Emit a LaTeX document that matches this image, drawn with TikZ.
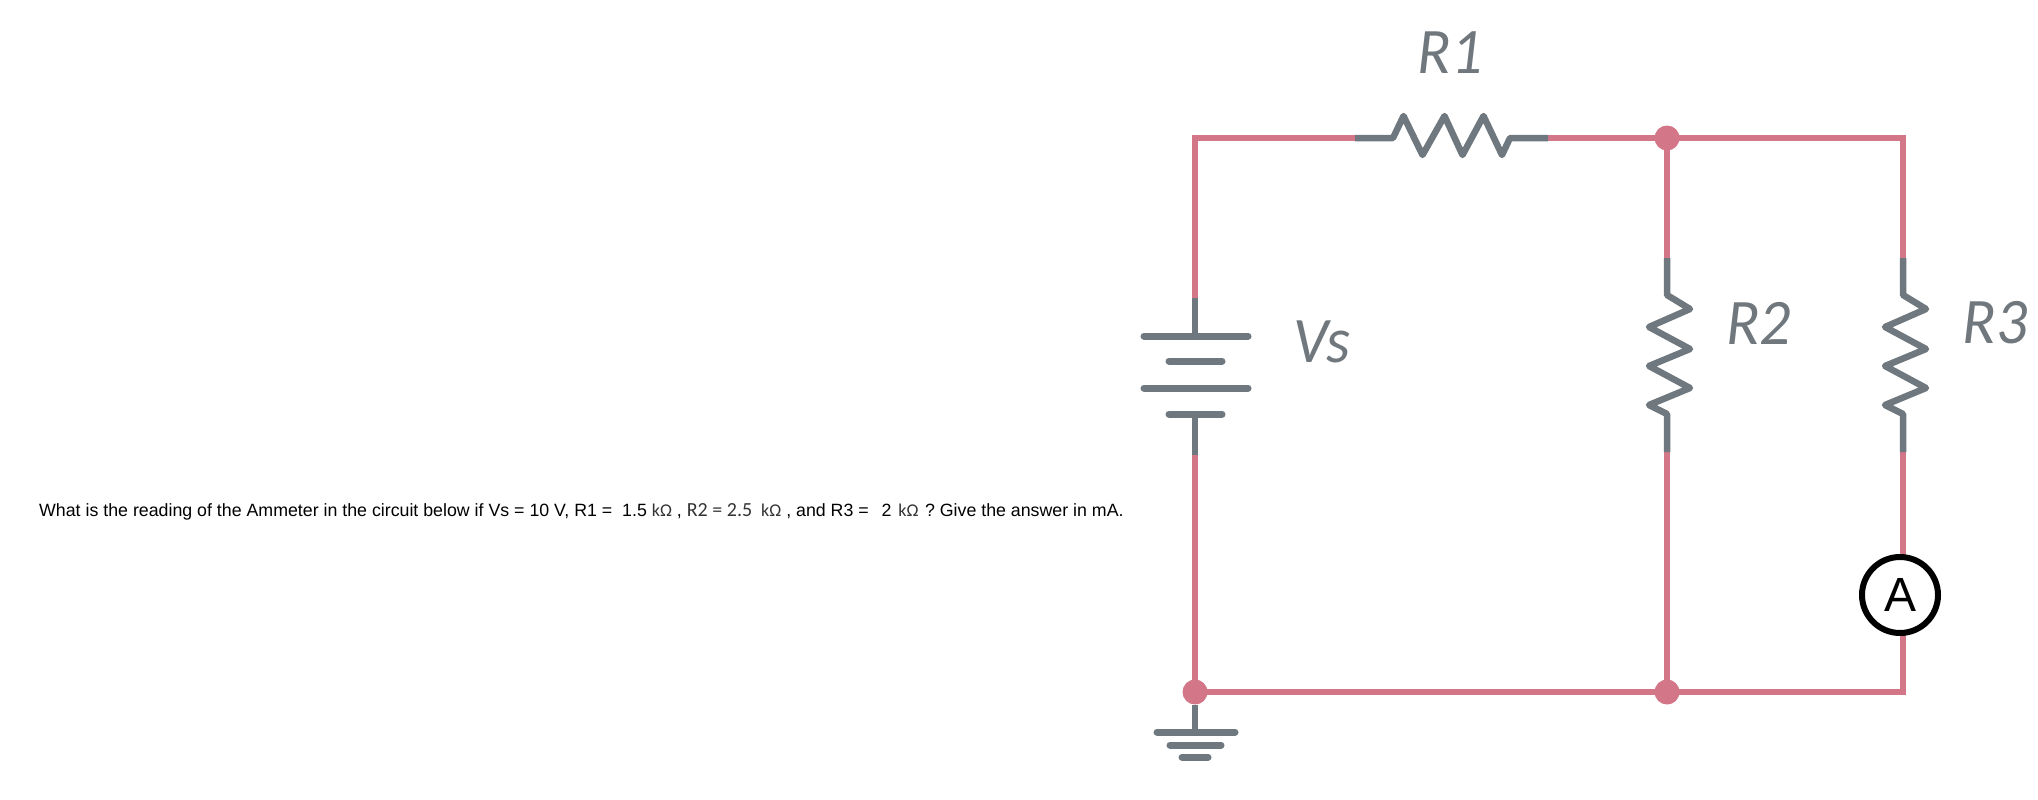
\documentclass[tikz,border=0pt]{standalone}
\usepackage{fontspec}
\setmainfont{Liberation Sans}
\newfontfamily\labelfont{Carlito}[ItalicFeatures={FakeStretch=0.95}]
\usepackage{color}
\definecolor{wirered}{HTML}{D27688}
\definecolor{partgrey}{HTML}{6E787E}
\definecolor{labelgrey}{HTML}{70787E}
\definecolor{valuegrey}{HTML}{333333}
\newcommand{\kohm}{{\labelfont\fontsize{18}{18}\selectfont\color{valuegrey}kΩ}}
\tikzset{
  wire/.style={draw=wirered, line width=6.5pt},
  part/.style={draw=partgrey, line width=6.5pt, line join=round},
  plate/.style={draw=partgrey, line width=7pt, line cap=round},
  joint/.style={draw=none, fill=wirered, circle, inner sep=0pt, minimum size=25pt},
  partlabel/.style={text=labelgrey, inner sep=0pt, font=\labelfont\itshape\fontsize{65}{65}\selectfont}
}
\begin{document}
\begin{tikzpicture}[x=1pt,y=-1pt]
      \useasboundingbox (0,0) rectangle (2038,800);
      \coordinate (tl) at (1195,138);
      \coordinate (tr) at (1903,138);
      \coordinate (br) at (1903,692);
      \coordinate (r1a) at (1355,138);
      \coordinate (r1b) at (1548,138);
      \coordinate (r2a) at (1667,258);
      \coordinate (r2b) at (1667,452);
      \coordinate (r3a) at (1903,258);
      \coordinate (r3b) at (1903,452);
      \coordinate (vsa) at (1195,298);
      \coordinate (vsb) at (1195,455);
      \node (j1) at (1667,138) [joint] {};
      \node (j2) at (1667,692) [joint] {};
      \node (j3) at (1195,692) [joint] {};
      % wires
      \draw[wire] (vsa) to (tl) to (r1a);
      \draw[wire] (r1b) to (j1.center);
      \draw[wire] (j1.center) to (tr) to (r3a);
      \draw[wire] (j1.center) to (r2a);
      \draw[wire] (r2b) to (j2.center);
      \draw[wire] (j3.center) to (j2.center) to (br) to (r3b);
      \draw[wire] (vsb) to (j3.center);
      % resistors
      \draw[part] (r1a) -- (1393,138) -- (1403.5,116) -- (1422.5,155) -- (1444.5,116) -- (1462.5,155)
        -- (1483.5,116) -- (1502,155) -- (1510,138) -- (r1b);
      \draw[part] (r2a) -- (1667,295) -- (1690,309) -- (1649,327) -- (1690,349) -- (1649,366)
        -- (1690,388) -- (1649,405) -- (1667,414) -- (r2b);
      \draw[part] (r3a) -- (1903,295) -- (1926,309) -- (1885,327) -- (1926,349) -- (1885,366)
        -- (1926,388) -- (1885,405) -- (1903,414) -- (r3b);
      % source
      \coordinate (vp1) at (1195,336);
      \coordinate (vp4) at (1195,414);
      \draw[part] (vsa) to (vp1);
      \draw[part] (vp4) to (vsb);
      \draw[plate] (1144,336) to (1248,336);
      \draw[plate] (1169,361) to (1222,361);
      \draw[plate] (1144,388) to (1248,388);
      \draw[plate] (1169,414) to (1222,414);
      % ground
      \coordinate (gp) at (1195,732);
      \draw[part] (j3) to (gp);
      \draw[plate] (1157,732) to (1235,732);
      \draw[plate] (1170,745) to (1221,745);
      \draw[plate] (1182,757) to (1208,757);
      % ammeter
      \node (am) at (1900,595) [draw=black, fill=white, circle, line width=6pt, inner sep=0pt,
        minimum size=76pt, font=\fontsize{48}{48}\selectfont] {A};
      % labels
      \node (lr1) at (1450,52.5) [partlabel] {R1};
      \node (lr2) at (1758.5,323) [partlabel] {R2};
      \node (lr3) at (1995,323) [partlabel] {R3};
      \node (lvs) at (1322,342) [partlabel] {Vs};
      \node (question) at (39,512) [anchor=west, inner sep=0pt, font=\fontsize{17.77}{20}\selectfont]
        {What is the reading of the Ammeter in the circuit below if Vs = 10 V, R1 =\ \ 1.5 \kohm\ , {\labelfont\fontsize{20}{20}\selectfont\color{valuegrey}R2 = 2.5\ \ }\kohm\ , and R3 =\ \ \hspace{3pt}2 \hspace{2pt}\kohm\ \hspace{1.5pt}? Give the answer in mA.};
    \end{tikzpicture}
\end{document}
